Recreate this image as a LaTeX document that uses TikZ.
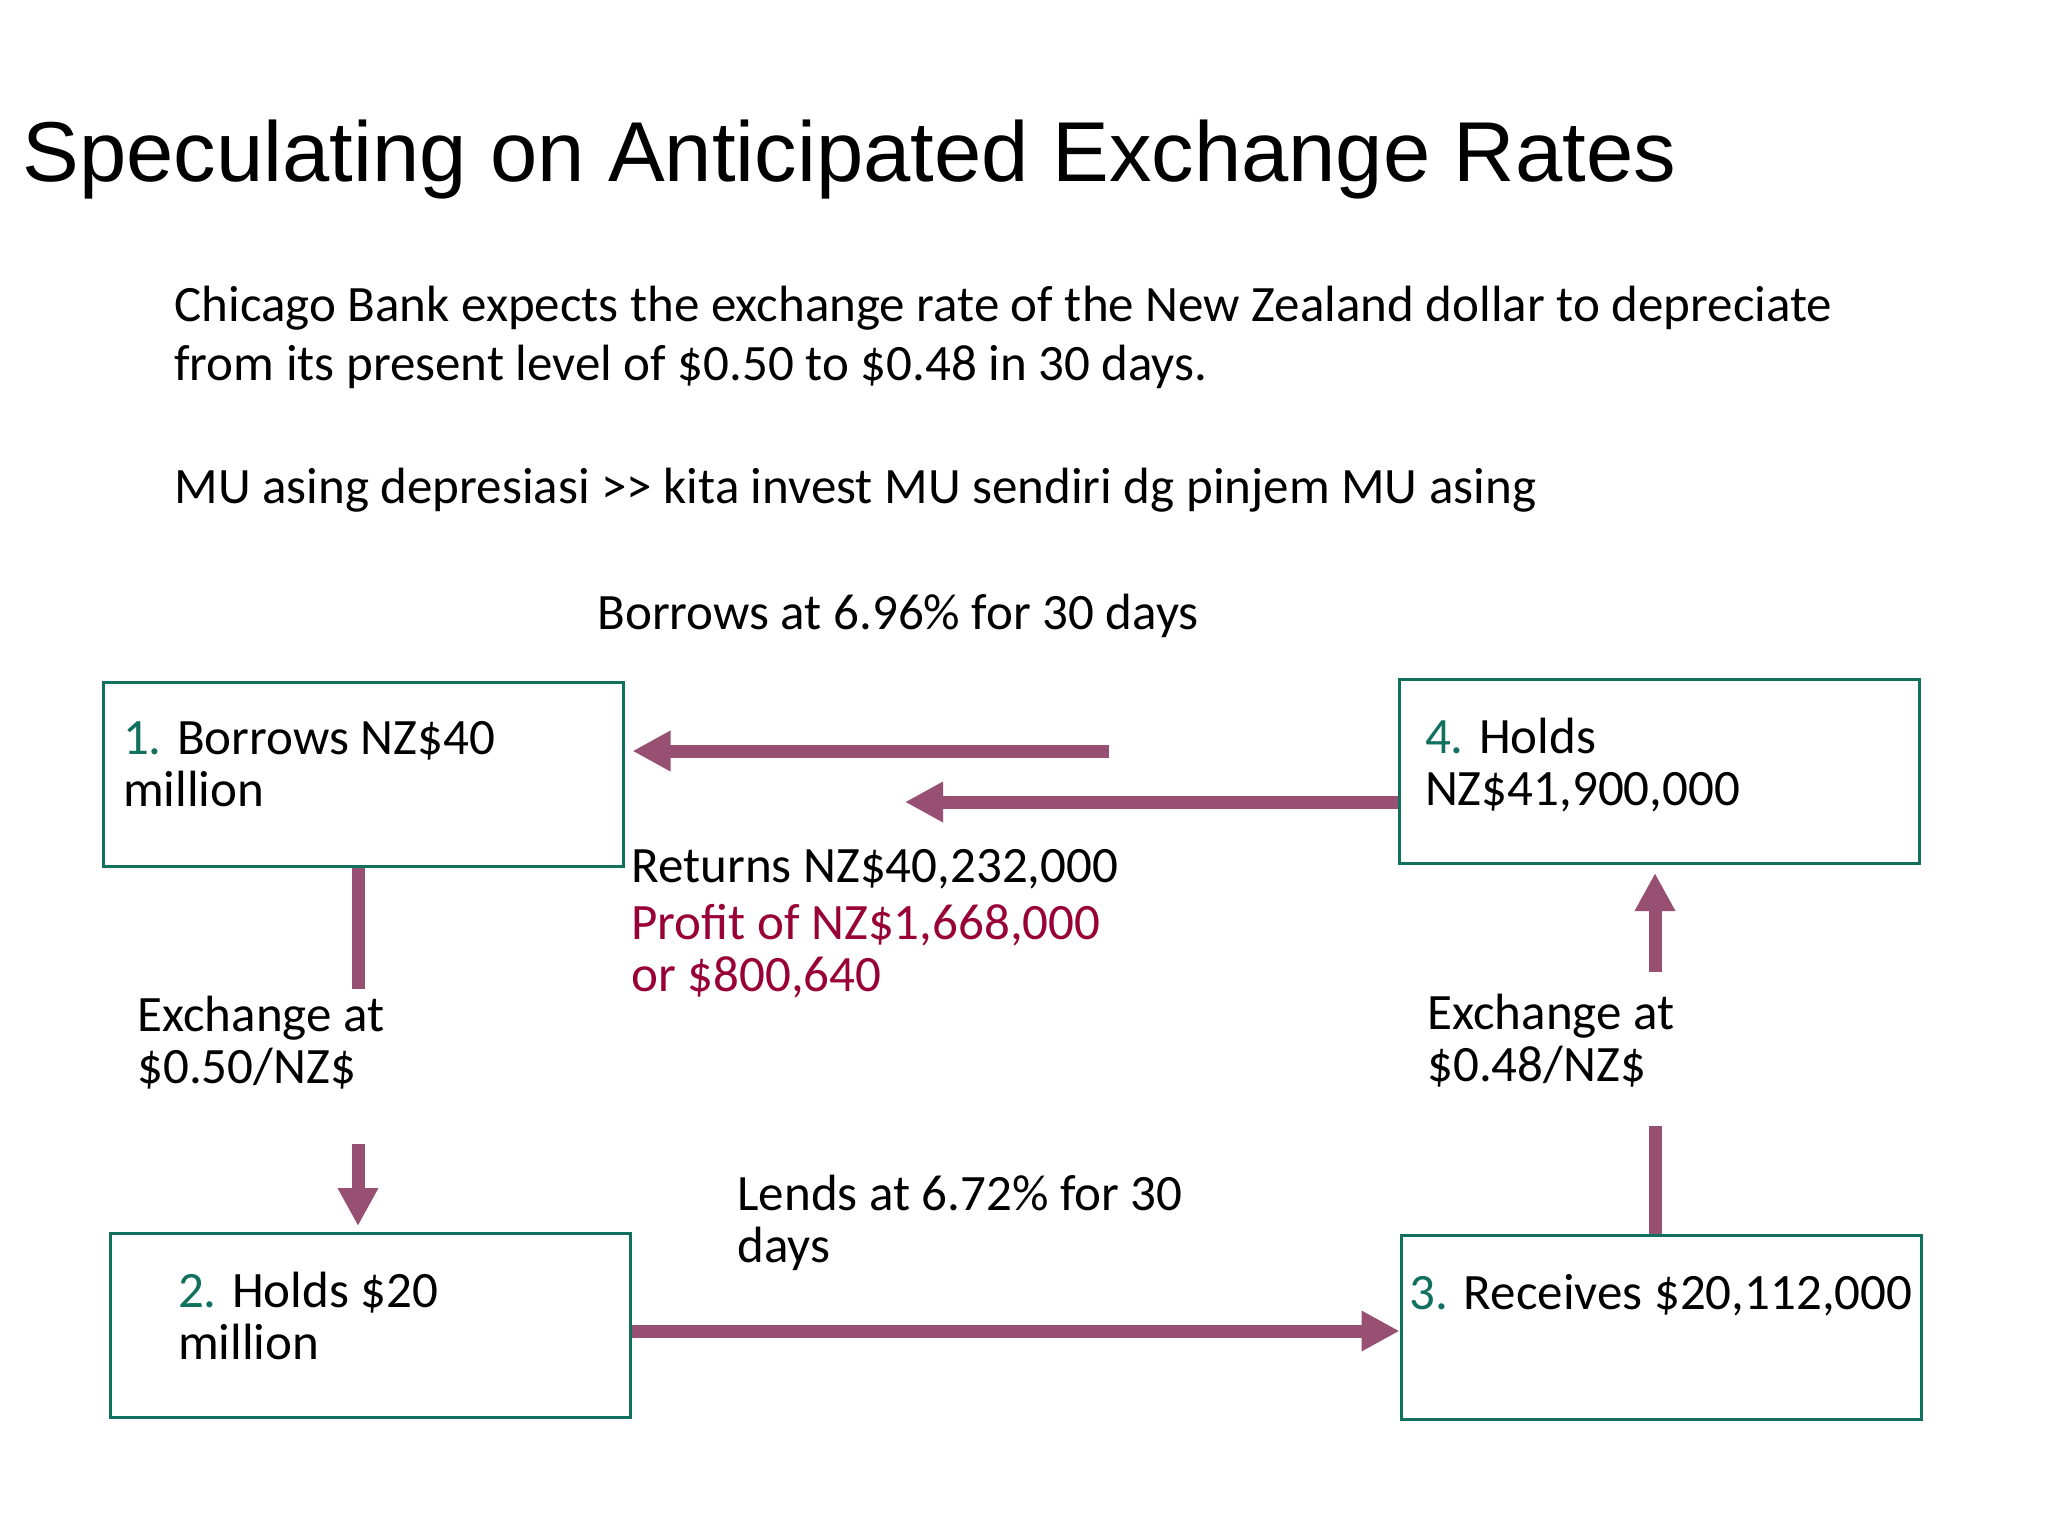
\documentclass[tikz,border=0pt]{standalone}
\usepackage{fontspec}
\setmainfont{Carlito}
\newfontfamily\titlefont{Liberation Sans}
\usetikzlibrary{positioning,arrows.meta,calc}
\definecolor{BoxTeal}{HTML}{12705F}
\definecolor{FlowMauve}{HTML}{975071}
\definecolor{ProfitRed}{HTML}{990036}

\begin{document}
\begin{tikzpicture}[x=0.5pt,y=-0.5pt,
    every node/.style={font=\fontsize{25.5}{26}\selectfont, inner sep=0pt},
    box/.style={draw=BoxTeal, line width=1.5pt, minimum width=260pt,
      minimum height=92pt, align=flush left, inner ysep=0pt,
      execute at end node={\rule[-10pt]{0pt}{0pt}}},
    lbl/.style={anchor=base west, align=flush left},
    mlbl/.style={anchor=north west, align=flush left,
      execute at begin node={\rule{0pt}{22pt}}},
    flow/.style={draw=FlowMauve, line width=6.5pt},
    ar/.style={flow, -{Triangle[length=19pt,width=19pt]}}]
  \fill[white] (0,0) rectangle (2048,1536);
  \useasboundingbox (0,0) rectangle (2048,1536);

  \node[anchor=base west, font=\titlefont\fontsize{42.5}{46}\selectfont]
    (title) at (22,181) {Speculating on Anticipated Exchange Rates};
  \node[mlbl] (intro) at (174,286)
    {Chicago Bank expects the exchange rate of the New Zealand dollar to depreciate\\[3.5pt]
     from its present level of \$0.50 to \$0.48 in 30 days.};
  \node[lbl] (note) at (174,503)
    {MU asing depresiasi >{}> kita invest MU sendiri dg pinjem MU asing};

  % the four positions
  \node[box, inner xsep=10pt, text width=240pt] (b1) at (363,774)
    {\textcolor{BoxTeal}{1.} Borrows NZ\$40\\million};
  \node[box, inner xsep=13pt, text width=234pt] (b4) at (1659,771.5)
    {\textcolor{BoxTeal}{4.} Holds\\NZ\$41,900,000};
  \node[box, inner xsep=34pt, text width=192pt] (b2) at (370,1325.5)
    {\textcolor{BoxTeal}{2.} Holds \$20\\million};
  \node[box, inner xsep=3.5pt] (b3) at (1661,1327.5)
    {\textcolor{BoxTeal}{3.} Receives \$20,112,000\\\mbox{}};

  % labels
  \node[lbl] (borrow) at (597,629) {Borrows at 6.96\% for 30 days};
  \node[mlbl] (ret) at (631,849)
    {Returns NZ\$40,232,000\\[2.5pt]
     \textcolor{ProfitRed}{Profit of NZ\$1,668,000}\\
     \textcolor{ProfitRed}{or \$800,640}};
  \node[mlbl] (exl) at (137,996) {Exchange at\\\$0.50/NZ\$};
  \node[mlbl] (exr) at (1427,994) {Exchange at\\\$0.48/NZ\$};
  \node[mlbl] (lend) at (737,1175) {Lends at 6.72\% for 30\\days};

  % connectors
  \coordinate (retA) at (1109,751);
  \coordinate (retB) at (905,802);
  \coordinate (xl1) at (358,989);
  \coordinate (xl2) at (358,1144);
  \coordinate (xr1) at (1655,1126);
  \coordinate (xr2) at (1655,972);
  \coordinate (lendY) at (0,1331);
  \draw[ar, shorten >=4pt] (retA) -- (b1.east |- retA);
  \draw[ar] (b4.west |- retB) -- (retB);
  \draw[flow] (xl1 |- b1.south) -- (xl1);
  \draw[ar, shorten >=3pt] (xl2) -- (xl2 |- b2.north);
  \draw[ar] (b2.east |- lendY) -- (b3.west |- lendY);
  \draw[flow] (xr1 |- b3.north) -- (xr1);
  \draw[ar, shorten >=4pt] (xr2) -- (xr2 |- b4.south);
\end{tikzpicture}
\end{document}
